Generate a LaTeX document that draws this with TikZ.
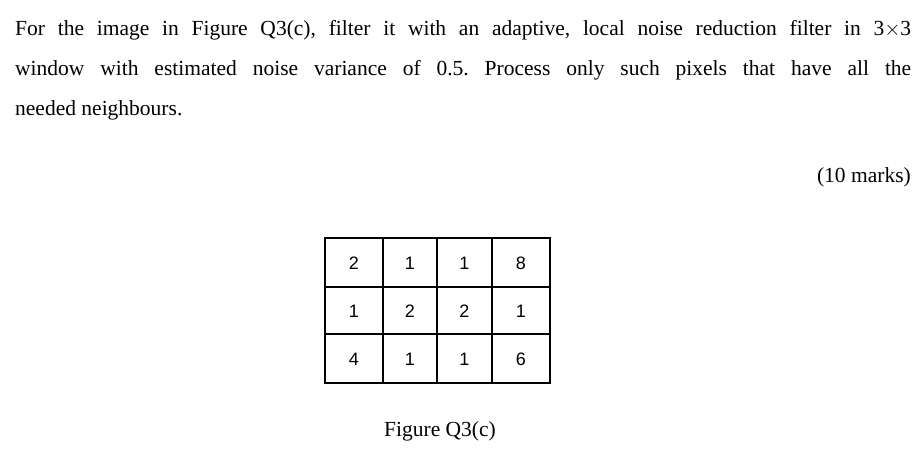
\documentclass[tikz,border=0pt]{standalone}
\usepackage{fontspec}
\setmainfont{Liberation Serif}
\newfontfamily\cellfont{Liberation Sans}
\begin{document}
\frenchspacing
\begin{tikzpicture}[x=1pt,y=-1pt,
  cell/.style={font=\cellfont\fontsize{18}{20}\selectfont,anchor=center},
  grid/.style={line width=1.1pt,black}]
\useasboundingbox (0,0) rectangle (924,460);
\node[anchor=north west,inner sep=0pt,align=justify,text width=896pt,font=\fontsize{21.5}{40}\selectfont] (para) at (15,20)
 {For the image in Figure Q3(c), filter it with an adaptive, local noise reduction filter in 3$\times$3\linebreak
  window with estimated noise variance of 0.5. Process only such pixels that have all the\linebreak
  needed neighbours.};
\node[anchor=base east,inner sep=0pt,font=\fontsize{21.5}{24}\selectfont] (marks) at (911,182) {(10 marks)};
\draw[grid] (325,238) rectangle (550,383);
\foreach \x in {383,437,492} \draw[grid] (\x,238) -- (\x,383);
\foreach \y in {287,334} \draw[grid] (325,\y) -- (550,\y);
\def\xs{{354,410,464.5,521}}
\def\ys{{263,311,359}}
\foreach \r/\row in {0/{2,1,1,8},1/{1,2,2,1},2/{4,1,1,6}}{
  \foreach \v [count=\c from 0] in \row {
    \node[cell] (c\r\c) at ({\xs[\c]},{\ys[\r]}) {\v};
  }
}
\node[anchor=base,inner sep=0pt,font=\fontsize{21.5}{24}\selectfont] (cap) at (440,436) {Figure Q3(c)};
\end{tikzpicture}
\end{document}
